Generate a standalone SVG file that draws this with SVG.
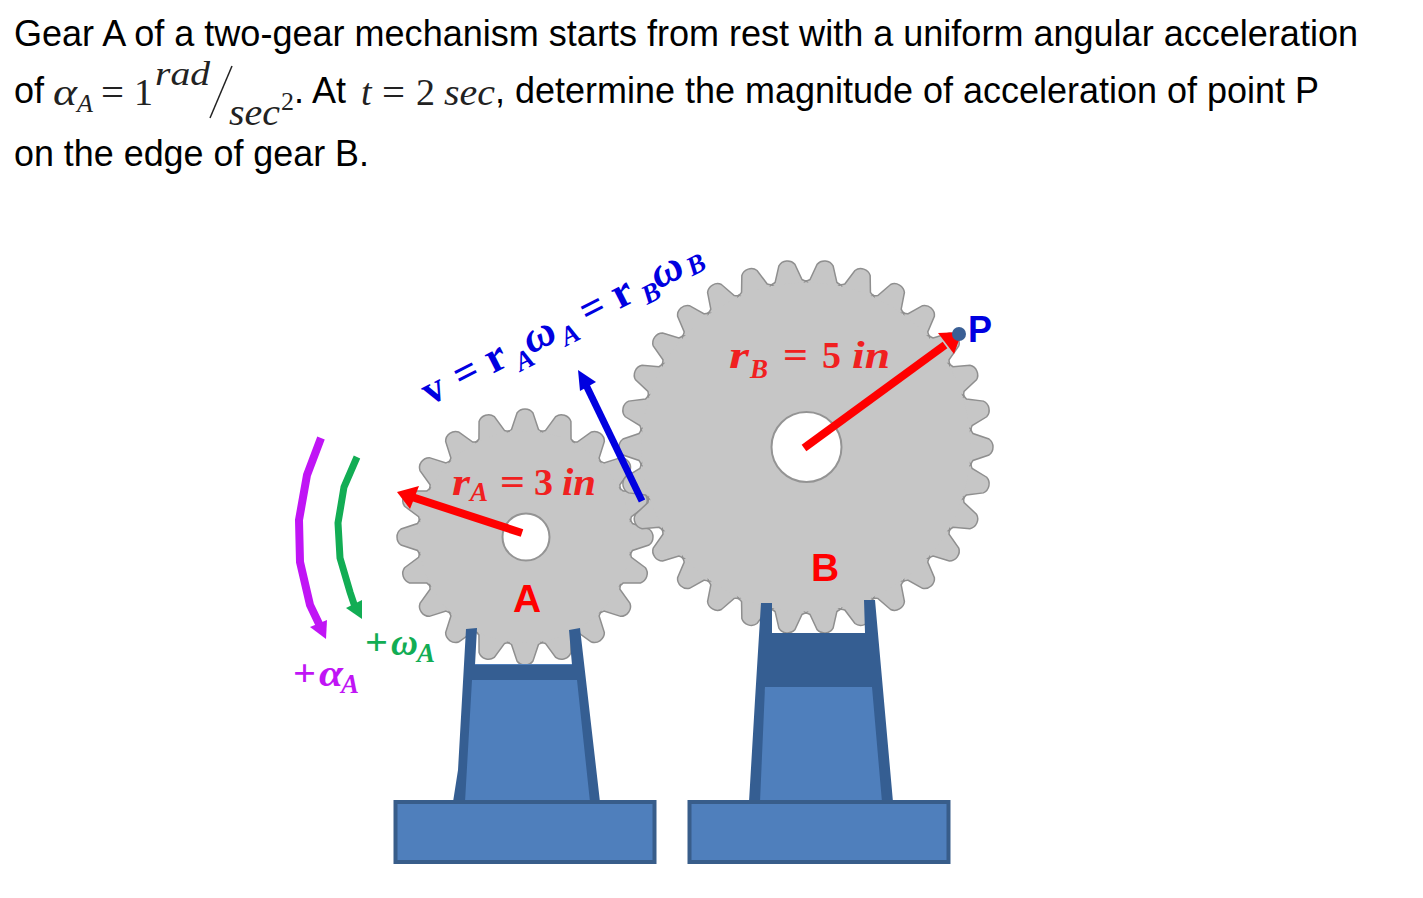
<svg xmlns="http://www.w3.org/2000/svg" width="1423" height="898" viewBox="0 0 1423 898">
<style>
.t{font-family:"Liberation Sans",Arial,sans-serif;font-size:36px;fill:#000}
.m{font-family:"Liberation Serif","DejaVu Serif",serif;font-style:italic;font-size:38px;fill:#222}
.n{font-family:"Liberation Serif","DejaVu Serif",serif;font-size:38px;fill:#222}
.s{font-size:26px}
.b{font-family:"Liberation Serif","DejaVu Serif",serif;font-weight:bold;font-size:38px}
.bi{font-style:italic}
.sb{font-size:27px;font-style:italic}
.l{font-family:"Liberation Sans",Arial,sans-serif;font-weight:bold;font-size:39px}
.red{fill:#f02020}
.grn{fill:#12ad54}
.pur{fill:#c015f5}
.gear{fill:#c6c6c6;stroke:#8f8f8f;stroke-width:1.5}
.body{fill:#c6c6c6}
.hole{fill:#fff;stroke:#949494;stroke-width:2}
.sup{fill:#4f7fbc}
.dk{fill:#355e92}
.base{fill:#4f7fbc;stroke:#385d8a;stroke-width:4}
</style>
<defs>
<path id="tooth" class="gear" d="M0,-90 L-16.700,-105.700 Q-15,-106.500 -13.500,-107.500 L-8,-124 C-5.500,-127.500 -2.500,-128 0,-128 C2.500,-128 5.500,-127.500 8,-124 L13.500,-107.500 Q15,-106.500 16.700,-105.700 Z"/>
<path id="toothB" class="gear" d="M0,-150 L-17.400,-165 Q-15.500,-165.500 -13.500,-167 L-8,-183 C-5.500,-186.500 -2.500,-187 0,-187 C2.500,-187 5.500,-186.500 8,-183 L13.500,-167 Q15.500,-165.500 17.400,-165 Z"/>
</defs>
<g id="problem-text">
<text class="t" x="14" y="46" textLength="1344" lengthAdjust="spacingAndGlyphs">Gear A of a two-gear mechanism starts from rest with a uniform angular acceleration</text>
<text class="t" x="14" y="103">of</text>
<text class="m" x="53" y="105" textLength="24" lengthAdjust="spacingAndGlyphs">α</text><text class="m s" x="77" y="112">A</text>
<text class="n" x="101" y="105" textLength="23" lengthAdjust="spacingAndGlyphs">=</text><text class="n" x="134" y="105">1</text>
<text class="m" x="155" y="85" textLength="55" lengthAdjust="spacingAndGlyphs" style="font-size:34px">rad</text>
<path d="M232,66 L210,118" stroke="#222" stroke-width="1.5" fill="none"/>
<text class="m" x="229" y="125" textLength="51" lengthAdjust="spacingAndGlyphs">sec</text><text class="n s" x="281" y="110">2</text>
<text class="t" x="294" y="103">. At</text>
<text class="m" x="361" y="105">t</text>
<text class="n" x="382" y="105" textLength="23" lengthAdjust="spacingAndGlyphs">=</text><text class="n" x="416" y="105">2</text>
<text class="m" x="444" y="105" textLength="51" lengthAdjust="spacingAndGlyphs">sec</text>
<text class="t" x="495" y="103" textLength="824" lengthAdjust="spacingAndGlyphs">, determine the magnitude of acceleration of point P</text>
<text class="t" x="14" y="166" textLength="355" lengthAdjust="spacingAndGlyphs">on the edge of gear B.</text>
</g>
<g id="gear-a" transform="translate(525 537)">
<use href="#tooth"/><use href="#tooth" transform="rotate(18)"/><use href="#tooth" transform="rotate(36)"/><use href="#tooth" transform="rotate(54)"/><use href="#tooth" transform="rotate(72)"/><use href="#tooth" transform="rotate(90)"/><use href="#tooth" transform="rotate(108)"/><use href="#tooth" transform="rotate(126)"/><use href="#tooth" transform="rotate(144)"/><use href="#tooth" transform="rotate(162)"/><use href="#tooth" transform="rotate(180)"/><use href="#tooth" transform="rotate(198)"/><use href="#tooth" transform="rotate(216)"/><use href="#tooth" transform="rotate(234)"/><use href="#tooth" transform="rotate(252)"/><use href="#tooth" transform="rotate(270)"/><use href="#tooth" transform="rotate(288)"/><use href="#tooth" transform="rotate(306)"/><use href="#tooth" transform="rotate(324)"/><use href="#tooth" transform="rotate(342)"/>
<circle class="body" r="106"/>
<circle class="hole" cx="1" r="23.5"/>
</g>
<g id="gear-b" transform="translate(806 447)">
<use href="#toothB" transform="rotate(6)"/><use href="#toothB" transform="rotate(18)"/><use href="#toothB" transform="rotate(30)"/><use href="#toothB" transform="rotate(42)"/><use href="#toothB" transform="rotate(54)"/><use href="#toothB" transform="rotate(66)"/><use href="#toothB" transform="rotate(78)"/><use href="#toothB" transform="rotate(90)"/><use href="#toothB" transform="rotate(102)"/><use href="#toothB" transform="rotate(114)"/><use href="#toothB" transform="rotate(126)"/><use href="#toothB" transform="rotate(138)"/><use href="#toothB" transform="rotate(150)"/><use href="#toothB" transform="rotate(162)"/><use href="#toothB" transform="rotate(174)"/><use href="#toothB" transform="rotate(186)"/><use href="#toothB" transform="rotate(198)"/><use href="#toothB" transform="rotate(210)"/><use href="#toothB" transform="rotate(222)"/><use href="#toothB" transform="rotate(234)"/><use href="#toothB" transform="rotate(246)"/><use href="#toothB" transform="rotate(258)"/><use href="#toothB" transform="rotate(270)"/><use href="#toothB" transform="rotate(282)"/><use href="#toothB" transform="rotate(294)"/><use href="#toothB" transform="rotate(306)"/><use href="#toothB" transform="rotate(318)"/><use href="#toothB" transform="rotate(330)"/><use href="#toothB" transform="rotate(342)"/><use href="#toothB" transform="rotate(354)"/>
<circle class="body" r="164.500"/>
<circle class="hole" cx="0.500" r="35"/>
</g>
<g id="support-a">
<path class="sup" d="M470,664 L578,664 L592,802 L458,802 Z"/>
<path class="dk" d="M466,629 L477,628 L475,665 L572,665 L569,630 L580,628 L600,802 L590,802 L577,680 L472,680 L465,802 L453,802 L458,770 Z"/>
<rect class="base" x="395.500" y="802" width="259" height="60"/>
</g>
<g id="support-b">
<path class="sup" d="M765,680 L875,680 L885,802 L755,802 Z"/>
<path class="dk" d="M761,603 L772,603 L772,633 L865,633 L864,600 L875,600 L893,802 L882,802 L872,687 L765,687 L760,802 L749,802 L755,700 Z"/>
<rect class="base" x="689.500" y="802" width="259" height="60"/>
</g>
<g id="connectors" fill="none">
<path d="M522,533 L412,497" stroke="#ff0000" stroke-width="8"/>
<path d="M397,492 L419,486 L410,509 Z" fill="#ff0000"/>
<path d="M804,448 L945,345" stroke="#ff0000" stroke-width="8"/>
<path d="M962,332 L954,354 L938,333 Z" fill="#ff0000"/>
<path d="M642,501 L586,385" stroke="#0000e0" stroke-width="7"/>
<path d="M578,370 L596,382 L580,391 Z" fill="#0000e0"/>
<path d="M321,438 L307,475 L299,520 L300,562 L310,605 L321,628" stroke="#c015f5" stroke-width="8"/>
<path d="M326,639 L310,627 L327,620 Z" fill="#c015f5"/>
<path d="M357,457 L344,487 L338,523 L340,558 L350,592 L355,607" stroke="#12ad54" stroke-width="7"/>
<path d="M362,619 L346,608 L362,600 Z" fill="#12ad54"/>
</g>
<g id="point-p">
<circle cx="959" cy="334" r="7" fill="#3a5f95"/>
<text class="l" x="968" y="342" fill="#0000e0" style="font-size:36px">P</text>
</g>
<g id="labels">
<text class="b bi red" x="452" y="495" textLength="18" lengthAdjust="spacingAndGlyphs">r</text><text class="b sb red" x="470" y="501">A</text><text class="b red" x="500" y="495" textLength="25" lengthAdjust="spacingAndGlyphs">=</text><text class="b red" x="534" y="495">3</text><text class="b bi red" x="562" y="495" textLength="34" lengthAdjust="spacingAndGlyphs">in</text>
<text class="b bi red" x="729" y="368" textLength="20" lengthAdjust="spacingAndGlyphs">r</text><text class="b sb red" x="750" y="378">B</text><text class="b red" x="783" y="368" textLength="25" lengthAdjust="spacingAndGlyphs">=</text><text class="b red" x="822" y="368">5</text><text class="b bi red" x="852" y="368" textLength="38" lengthAdjust="spacingAndGlyphs">in</text>
<text class="l" x="513" y="612" fill="#ff0000">A</text>
<text class="l" x="811" y="581" fill="#ff0000">B</text>
<text class="b grn" x="365" y="655" textLength="23" lengthAdjust="spacingAndGlyphs">+</text><text class="b bi grn" x="391" y="655" textLength="27" lengthAdjust="spacingAndGlyphs">ω</text><text class="b sb grn" x="417" y="662">A</text>
<text class="b pur" x="293" y="686" textLength="23" lengthAdjust="spacingAndGlyphs">+</text><text class="b bi pur" x="319" y="686" textLength="24" lengthAdjust="spacingAndGlyphs">α</text><text class="b sb pur" x="341" y="693">A</text>
<g transform="translate(439 401) rotate(-27)" fill="#0000e0" text-anchor="middle">
<text class="b" x="0" y="0" style="font-size:42px">v</text><text class="b" x="37" y="0" style="font-size:42px">=</text><text class="b" x="70" y="0" style="font-size:44px">r</text><text class="b sb" x="95" y="11">A</text><text class="b bi" x="119" y="0" style="font-size:44px">ω</text><text class="b sb" x="147" y="9">A</text><text class="b" x="179" y="0" style="font-size:42px">=</text><text class="b" x="212" y="0" style="font-size:44px">r</text><text class="b sb" x="238" y="9">B</text><text class="b bi" x="262" y="0" style="font-size:44px">ω</text><text class="b sb" x="291" y="4">B</text>
</g>
</g>
</svg>
